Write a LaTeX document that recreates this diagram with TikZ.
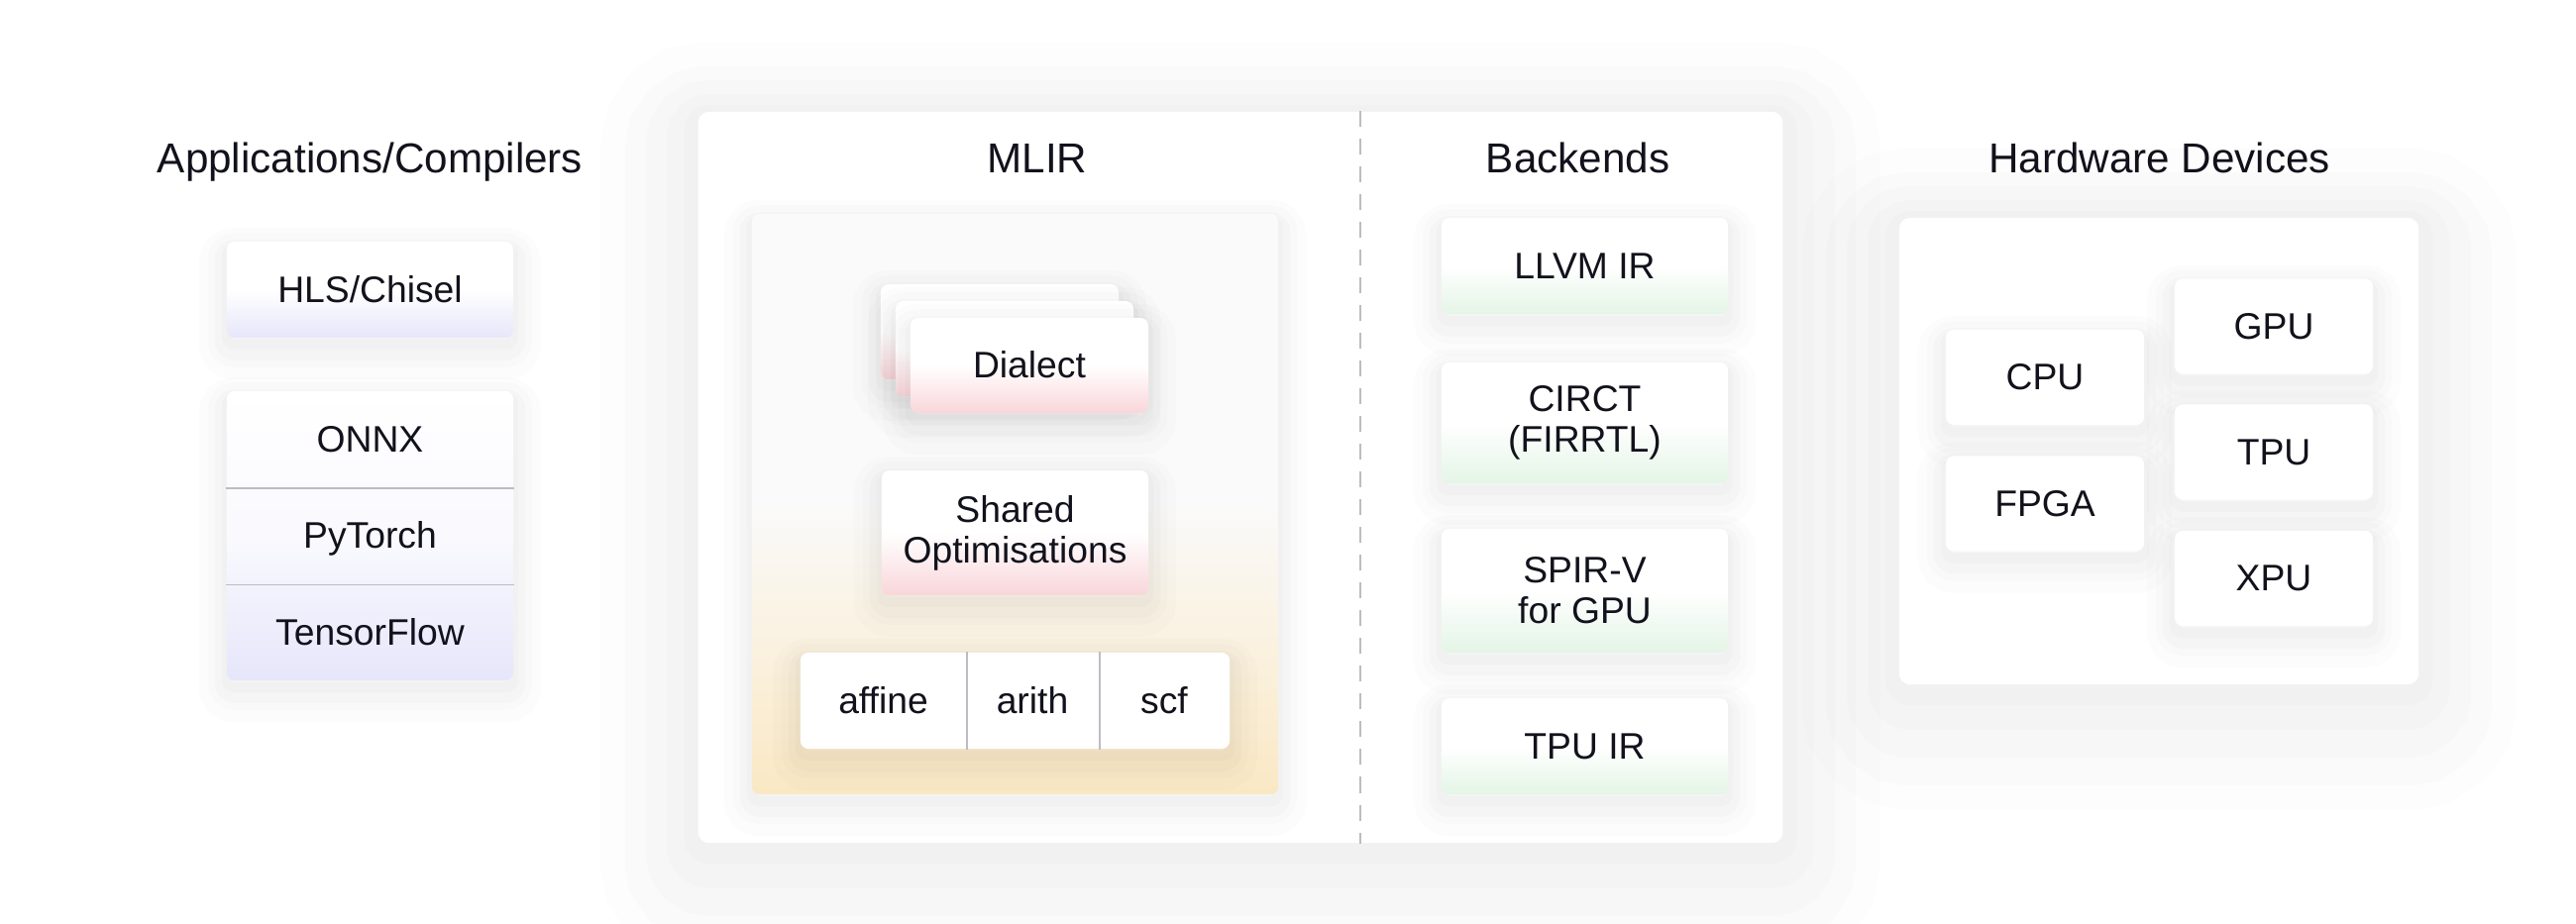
\documentclass[tikz,border=0pt]{standalone}
\usepackage{fontspec}
\setmainfont{Liberation Sans}
\usepackage{xcolor}
\usepackage{tikz}
\usetikzlibrary{positioning,calc}

\definecolor{ink}{RGB}{18,18,28}
\definecolor{lav}{RGB}{230,230,251}
\definecolor{blush}{RGB}{249,214,218}
\definecolor{mint}{RGB}{228,245,230}
\definecolor{sand}{RGB}{250,232,196}
\definecolor{haze}{RGB}{250,250,250}
\definecolor{rulegray}{RGB}{188,188,194}

\begin{document}
\begin{tikzpicture}[
  x=0.01cm, y=-0.01cm,
  softshadow/.style={
    preaction={draw=black, draw opacity=0.010, line width=16pt, transform canvas={yshift=-4pt}},
    preaction={draw=black, draw opacity=0.012, line width=11pt, transform canvas={yshift=-3pt}},
    preaction={draw=black, draw opacity=0.014, line width=7pt, transform canvas={yshift=-3pt}},
    preaction={draw=black, draw opacity=0.016, line width=3pt, transform canvas={yshift=-2pt}}},
  bigshadow/.style={
    preaction={draw=black, draw opacity=0.008, line width=56pt, transform canvas={yshift=-8pt}},
    preaction={draw=black, draw opacity=0.010, line width=42pt, transform canvas={yshift=-8pt}},
    preaction={draw=black, draw opacity=0.010, line width=30pt, transform canvas={yshift=-6pt}},
    preaction={draw=black, draw opacity=0.012, line width=18pt, transform canvas={yshift=-4pt}},
    preaction={draw=black, draw opacity=0.012, line width=8pt, transform canvas={yshift=-2pt}}},
  title/.style={anchor=base, text=ink, font=\fontsize{12pt}{14pt}\selectfont},
  card/.style={rounded corners=0.08cm, minimum width=2.89cm, minimum height=0.97cm,
               align=center, text=ink, inner sep=0pt, softshadow,
               font=\fontsize{10.6pt}{11.6pt}\selectfont},
  oneline/.style={text height=0.9em, text depth=0.184em},
  appbox/.style={card, top color=white, bottom color=lav, middle color=white},
  dialect/.style={card, minimum width=2.40cm, minimum height=0.96cm,
                  top color=white, bottom color=blush, middle color=white},
  backend/.style={card, top color=white, bottom color=mint, middle color=white},
  device/.style={card, oneline, fill=white, minimum width=2.0cm, minimum height=0.96cm},
  panel/.style={rounded corners=0.11cm, fill=white, inner sep=0pt, bigshadow},
  cell/.style={minimum height=0.97cm, text=ink, inner sep=0pt, oneline,
               font=\fontsize{10.6pt}{11.6pt}\selectfont},
  divider/.style={draw=rulegray, line width=0.5pt},
  splitline/.style={draw=rulegray, line width=0.5pt, dash pattern=on 0.16cm off 0.12cm},
]
\useasboundingbox (0,0) rectangle (2600,932);
\fill[white] (0,0) rectangle (2600,932);

% Column 1: applications / compilers
\node[title] (apps) at (373.5,174) {Applications/Compilers};
\node[appbox, oneline] (hls) at (373.5,292.5) {HLS/Chisel};
\node[appbox, minimum height=2.92cm, middle color=white!78!lav] (stack) at (373.5,541) {};
\node[cell, minimum width=2.89cm, minimum height=0.975cm] (onnx) at (373.5,443.5) {ONNX};
\node[cell, minimum width=2.89cm, minimum height=0.975cm] (torch) at (373.5,541) {PyTorch};
\node[cell, minimum width=2.89cm, minimum height=0.975cm] (tf) at (373.5,638.5) {TensorFlow};
\draw[divider] (onnx.south west) -- (onnx.south east);
\draw[divider] (torch.south west) -- (torch.south east);

% Column 2+3: MLIR and backends panel
\node[panel, minimum width=10.94cm, minimum height=7.38cm] (core) at (1252,482) {};
\coordinate (split) at (1373,482);
\draw[splitline] (split |- core.north) -- (split |- core.south);

\node[title] (mlir) at (1047,174) {MLIR};
\node[rounded corners=0.08cm, minimum width=5.31cm, minimum height=5.86cm,
      top color=haze, bottom color=sand, middle color=haze, softshadow] (inner) at (1024.5,509) {};

% Dialect stack
\node[dialect] (dia1) at (1009,335) {};
\node[dialect] (dia2) at (1024,352) {};
\node[dialect, oneline] (dialect) at (1039,369) {Dialect};
\node[dialect, minimum width=2.69cm, minimum height=1.26cm] (shared) at (1024.5,538)
  {Shared\\Optimisations};

% Core dialects row
\node[card, fill=white, minimum width=4.33cm] (bar) at (1024.5,707.5) {};
\node[cell, minimum width=1.67cm] (affine) at (891.5,707.5) {affine};
\node[cell, minimum width=1.34cm] (arith) at (1042,707.5) {arith};
\node[cell, minimum width=1.32cm] (scf) at (1175,707.5) {scf};
\draw[divider] (affine.north east) -- (affine.south east);
\draw[divider] (arith.north east) -- (arith.south east);

% Backends
\node[title] (backends) at (1592.5,174) {Backends};
\node[backend, oneline] (llvm) at (1599.5,268.5) {LLVM IR};
\node[backend, minimum height=1.22cm] (circt) at (1599.5,427) {CIRCT\\(FIRRTL)};
\node[backend, minimum height=1.25cm] (spirv) at (1599.5,596.5) {SPIR-V\\for GPU};
\node[backend, oneline] (tpuir) at (1599.5,753.5) {TPU IR};

% Column 4: hardware devices
\node[title] (hwtitle) at (2179.5,174) {Hardware Devices};
\node[panel, minimum width=5.24cm, minimum height=4.71cm] (hw) at (2179,455.5) {};
\node[device] (cpu) at (2064,381) {CPU};
\node[device] (fpga) at (2064,508.5) {FPGA};
\node[device] (gpu) at (2295,329.5) {GPU};
\node[device] (tpu) at (2295,456.5) {TPU};
\node[device] (xpu) at (2295,584) {XPU};
\end{tikzpicture}
\end{document}
